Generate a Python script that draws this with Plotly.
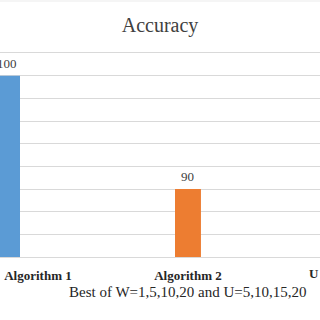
import plotly.graph_objects as go

categories = ["Algorithm 1", "Algorithm 2"]
series_names = ["Algorithm 1", "Algorithm 2"]
values = [100, 90]
value_labels = ["100", "90"]
colors = ["#5B9BD5", "#ED7D31"]
offsets = [-0.293, -0.0867]
bar_width = 0.173
y_min, y_max, y_step = 84, 102, 2
x_title = "Best of W=1,5,10,20 and U=5,10,15,20"
third_label = "U"

fig = go.Figure()
for i, (name, v, c, off) in enumerate(zip(series_names, values, colors, offsets)):
    fig.add_trace(go.Bar(x=[categories[i]], y=[v], name=name, marker_color=c,
                         marker_line_width=0, width=bar_width, offset=off))
    fig.add_annotation(x=i + off + bar_width / 2, y=v, xref="x", yref="y",
                       text=value_labels[i], showarrow=False, yanchor="bottom", yshift=3,
                       font=dict(family="Liberation Serif", size=13, color="#404040"))

fig.add_annotation(x=1, xref="paper", y=-0.08, yref="paper", text=f"<b>{third_label}</b>",
                   showarrow=False, xanchor="right", yanchor="middle", borderpad=0,
                   font=dict(family="Liberation Serif", size=13, color="#262626"))
fig.add_annotation(x=187 / 320, xref="paper", y=-0.17, yref="paper", text=x_title,
                   showarrow=False, xanchor="center", yanchor="middle",
                   font=dict(family="Liberation Serif", size=15, color="#262626"))

fig.update_layout(
    width=320, height=320, margin=dict(l=0, r=0, t=53, b=63),
    barmode="overlay", showlegend=False,
    plot_bgcolor="white", paper_bgcolor="white",
    title=dict(text="Accuracy", x=0.5, xanchor="center", y=1 - 25 / 320, yanchor="middle",
               font=dict(family="Liberation Serif", size=20, color="#404040")),
    xaxis=dict(type="category", range=[-38 / 150, 282 / 150], showgrid=False,
               showline=True, linecolor="#d9d9d9", mirror=True, ticks="",
               ticklabelstandoff=6,
               tickfont=dict(family="Liberation Serif", size=13, color="#262626"),
               tickprefix="<b>", ticksuffix="</b>"),
    yaxis=dict(range=[y_min, y_max], dtick=y_step, tick0=y_min, showticklabels=False,
               gridcolor="#d9d9d9", zeroline=False, showline=False),
)
fig.add_shape(type="line", xref="paper", yref="paper", x0=0, x1=1, y0=1 + 52 / 204, y1=1 + 52 / 204,
              line=dict(color="#ebebeb", width=1))
fig.write_html("out.html", config={"displayModeBar": False},
               post_script="document.documentElement.style.overflow='hidden';document.body.style.overflow='hidden';document.body.style.margin='0';")
